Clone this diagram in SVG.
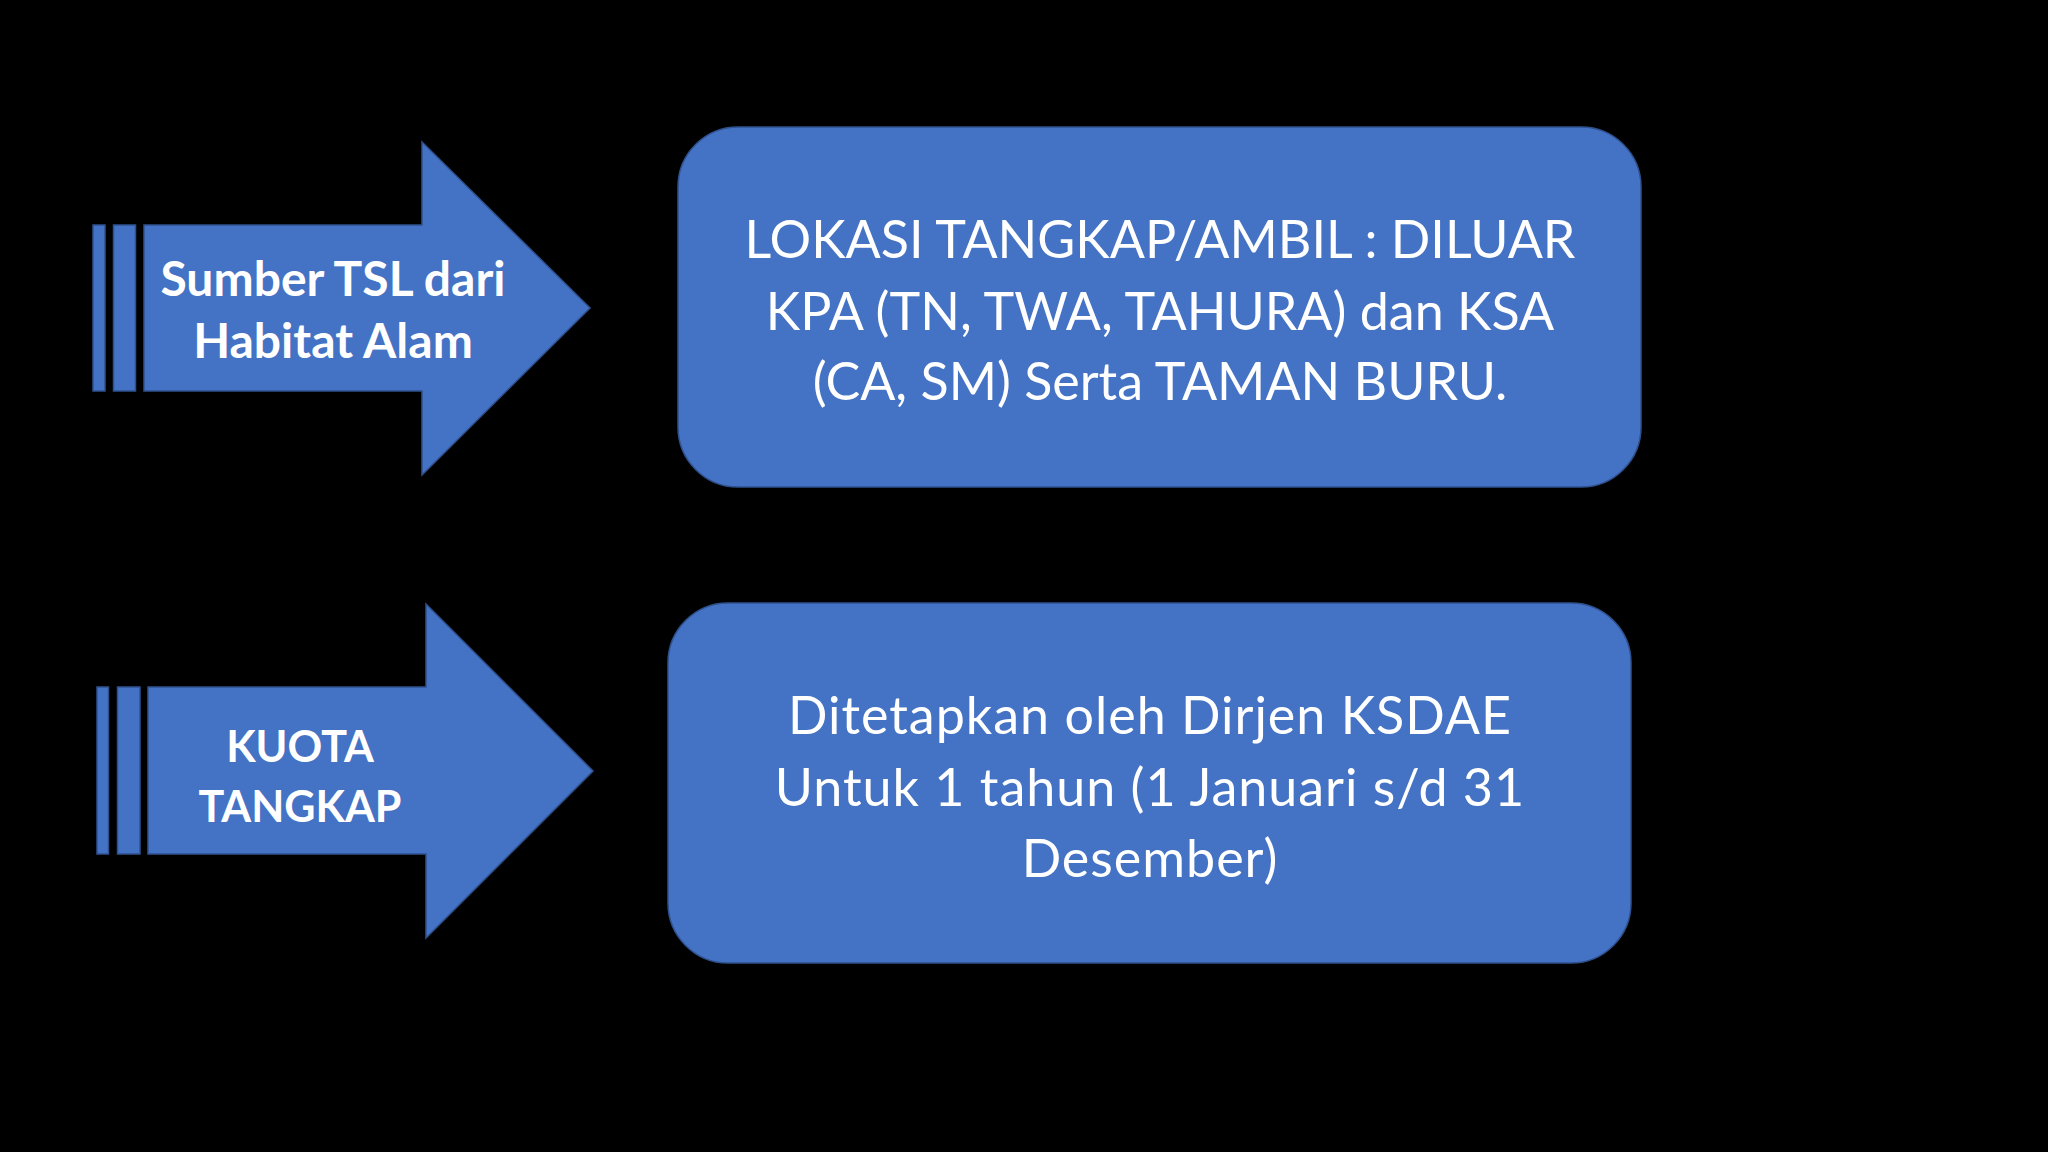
<svg xmlns="http://www.w3.org/2000/svg" width="2048" height="1152" viewBox="0 0 2048 1152">
<style>
.shape{fill:#4472C4;stroke:#2F528F;stroke-width:1.5}
.lbl{font-family:Lato,"Liberation Sans",sans-serif;font-weight:bold;font-size:48px;fill:#FFFFFF;text-anchor:middle}
.lbl2{font-family:Lato,"Liberation Sans",sans-serif;font-weight:bold;font-size:43px;fill:#FFFFFF;text-anchor:middle}
.body{font-family:Lato,"Liberation Sans",sans-serif;font-size:52px;fill:#FFFFFF;text-anchor:middle}
.body2{font-family:Lato,"Liberation Sans",sans-serif;font-size:52px;letter-spacing:1px;fill:#FFFFFF;text-anchor:middle}
</style>
<rect x="0" y="0" width="2048" height="1152" fill="#000000"/>
<g id="arrow-sumber">
<rect class="shape" x="93" y="225" width="12" height="166"/>
<rect class="shape" x="113.5" y="225" width="22" height="166"/>
<polygon class="shape" points="144,225 422,225 422,142 590,308 422,475 422,391 144,391"/>
<text class="lbl" x="333" y="296">Sumber TSL dari</text>
<text class="lbl" x="333" y="358">Habitat Alam</text>
</g>
<g id="arrow-kuota">
<rect class="shape" x="97" y="687" width="11.5" height="167"/>
<rect class="shape" x="117.5" y="687" width="22.5" height="167"/>
<polygon class="shape" points="148,687 426,687 426,604 593,771 426,938 426,854 148,854"/>
<text class="lbl2" x="300" y="762">KUOTA</text>
<text class="lbl2" x="300" y="822">TANGKAP</text>
</g>
<g id="box-lokasi">
<rect class="shape" x="678" y="127" width="963" height="360" rx="60" ry="60"/>
<text class="body" x="1160" y="258">LOKASI TANGKAP/AMBIL : DILUAR</text>
<text class="body" x="1160" y="330">KPA (TN, TWA, TAHURA) dan KSA</text>
<text class="body" x="1160" y="400">(CA, SM) Serta TAMAN BURU.</text>
</g>
<g id="box-kuota">
<rect class="shape" x="668" y="603" width="963" height="360" rx="60" ry="60"/>
<text class="body2" x="1150" y="734">Ditetapkan oleh Dirjen KSDAE</text>
<text class="body2" x="1150" y="806">Untuk 1 tahun (1 Januari s/d 31</text>
<text class="body2" x="1150" y="877">Desember)</text>
</g>
<g id="connectors"></g>
</svg>
